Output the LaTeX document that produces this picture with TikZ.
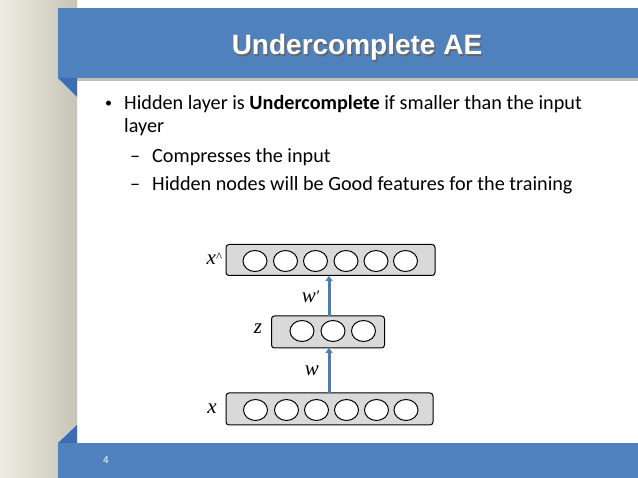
\documentclass[tikz,border=0pt]{standalone}
\usepackage{fontspec}
\setmainfont{Carlito}
\newfontfamily\titlefont{Liberation Sans}
\newfontfamily\varfont{Liberation Serif}
\usetikzlibrary{shapes.geometric,arrows.meta}
\definecolor{slideblue}{HTML}{4F81BD}
\definecolor{folddark}{HTML}{3A6DB3}
\definecolor{beigeL}{HTML}{EFECE1}
\definecolor{beigeR}{HTML}{C7C4B7}
\definecolor{boxgray}{HTML}{D9D9D9}
\definecolor{arrowblue}{HTML}{4A7DBA}
\tikzset{
  layerbox/.style={draw=black, line width=1pt, fill=boxgray, rounded corners=3pt, inner sep=0pt},
  unit/.style={draw=black, line width=1pt, fill=white, ellipse, minimum width=24pt, minimum height=21pt, inner sep=0pt},
  lbl/.style={font=\varfont\itshape\fontsize{21}{23}\selectfont, inner sep=0pt},
  body/.style={font=\fontsize{20.2}{23}\selectfont, anchor=base west, inner sep=0pt},
  link/.style={draw=arrowblue, line width=3pt, -{Triangle[length=5pt,width=7pt]}},
}
\begin{document}
\begin{tikzpicture}[x=1pt,y=-1pt]
\useasboundingbox (0,0) rectangle (638,478);
\fill[white] (0,0) rectangle (638,478);
% left strip
\shade[left color=beigeL, right color=beigeR] (0,0) rectangle (77,478);
% title bar
\fill[black!25] (58,78) rectangle (638,81);
\fill[slideblue] (58,8) rectangle (638,78);
\fill[folddark] (58,78) -- (77,78) -- (77,97) -- cycle;
\node[font=\titlefont\bfseries\fontsize{28}{30}\selectfont, text=black!60, anchor=base] at (358.5,56.5) {Undercomplete AE};
\node[font=\titlefont\bfseries\fontsize{28}{30}\selectfont, text=white, anchor=base] (title) at (357,55) {Undercomplete AE};
% bottom bar
\fill[slideblue] (58,443) rectangle (638,478);
\fill[folddark] (58,443) -- (77,443) -- (77,425) -- cycle;
\node[font=\titlefont\fontsize{10}{12}\selectfont, text=white] (pagenum) at (106,460) {4};
% body text
\node[body, font=\fontsize{14}{16}\selectfont] (b1) at (105,108) {•};
\node[body] (t1) at (124,110) {Hidden layer is \textbf{Undercomplete} if smaller than the input};
\node[body] (t2) at (124,133) {layer};
\node[body] (d3) at (130,163) {–};
\node[body] (t3) at (152,163) {Compresses the input};
\node[body] (d4) at (130,191) {–};
\node[body] (t4) at (152,191) {Hidden nodes will be Good features for the training};
% layers
\node[layerbox, minimum width=209pt, minimum height=31pt] (xhatbox) at (330.5,260) {};
\node[layerbox, minimum width=113pt, minimum height=32pt] (zbox) at (328,332) {};
\node[layerbox, minimum width=207pt, minimum height=32pt] (xbox) at (329.5,409) {};
\foreach \i/\cx in {1/255,2/285.5,3/315.5,4/346,5/376,6/405.5}{
  \node[unit] (h\i) at (\cx,261) {};
}
\foreach \i/\cx in {1/302,2/333,3/363.5}{
  \node[unit] (z\i) at (\cx,331) {};
}
\foreach \i/\cx in {1/255.5,2/286.5,3/316.5,4/346.5,5/376.5,6/406}{
  \node[unit] (x\i) at (\cx,410) {};
}
% arrows
\coordinate (a1s) at (329,393);
\coordinate (a1e) at (329,348);
\coordinate (a2s) at (329,316);
\coordinate (a2e) at (329,276);
\draw[link] (a1s) -- (a1e);
\draw[link] (a2s) -- (a2e);
% labels
\node[lbl] (lxhat) at (214,259) {x\raisebox{3pt}{\fontsize{13}{13}\selectfont\^{}}};
\node[lbl] (lwp) at (311,297) {w\kern0.5pt\raisebox{1pt}{\upshape\fontsize{16}{16}\selectfont′}};
\node[lbl] (lz) at (258,329) {z};
\node[lbl] (lw) at (312,371) {w};
\node[lbl] (lx) at (212,409) {x};
\end{tikzpicture}
\end{document}
